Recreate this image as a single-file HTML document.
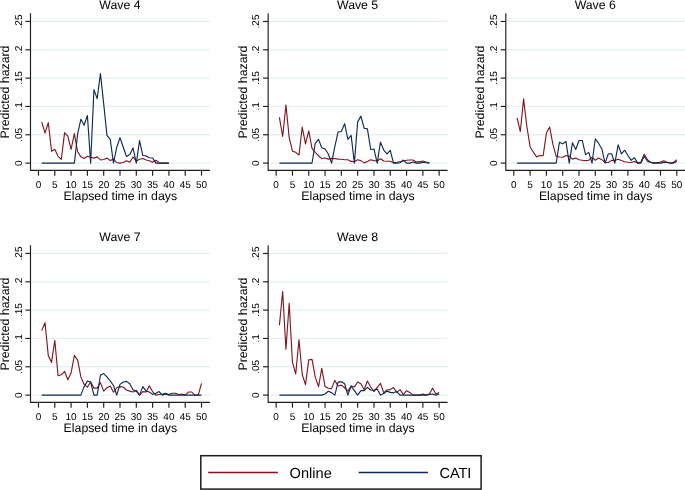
<!DOCTYPE html>
<html><head><meta charset="utf-8"><title>Predicted hazard by wave</title>
<style>
html,body{margin:0;padding:0;background:#fff;}
body{width:685px;height:490px;overflow:hidden;}
svg{display:block;}
text{font-family:"Liberation Sans",Arial,sans-serif;fill:#000;text-rendering:geometricPrecision;}
.t{font-size:12.3px;}
.tk{font-size:10px;}
.ax{font-size:12.3px;}
.lg{font-size:14.6px;}
</style></head><body>
<svg width="685" height="490" viewBox="0 0 685 490">
<rect width="685" height="490" fill="#fff"/>

<g transform="translate(0,0)">
<line x1="31.7" y1="163.1" x2="209.9" y2="163.1" stroke="#e6eff2" stroke-width="1.3"/>
<line x1="31.7" y1="134.77" x2="209.9" y2="134.77" stroke="#e6eff2" stroke-width="1.3"/>
<line x1="31.7" y1="106.45" x2="209.9" y2="106.45" stroke="#e6eff2" stroke-width="1.3"/>
<line x1="31.7" y1="78.12" x2="209.9" y2="78.12" stroke="#e6eff2" stroke-width="1.3"/>
<line x1="31.7" y1="49.8" x2="209.9" y2="49.8" stroke="#e6eff2" stroke-width="1.3"/>
<line x1="31.7" y1="21.47" x2="209.9" y2="21.47" stroke="#e6eff2" stroke-width="1.3"/>
<polyline points="41.76,121.86 45.02,133.13 48.28,122.54 51.54,151.2 54.8,149.33 58.06,156.3 61.32,159.47 64.58,132.68 67.84,136.08 71.1,149.33 74.36,133.64 77.62,151.77 80.88,156.87 84.14,158.57 87.4,156.3 90.66,157.27 93.92,158.11 97.18,156.87 100.44,159.93 103.7,159.47 106.96,158 110.22,160.61 113.48,159.13 116.74,162.53 120,163.1 123.26,162.53 126.52,160.83 129.78,162.25 133.04,156.93 136.3,161.06 139.56,159.19 142.82,158.57 146.08,160.04 149.34,160.83 152.6,162.25 155.86,160.27 159.12,162.7 162.38,163.1 165.64,163.1 168.9,163.1" fill="none" stroke="#7e1520" stroke-width="1.12" stroke-linejoin="round" stroke-linecap="butt"/>
<polyline points="41.76,163.1 45.02,163.1 48.28,163.1 51.54,163.1 54.8,163.1 58.06,163.1 61.32,163.1 64.58,163.1 67.84,163.1 71.1,163.1 74.36,163.1 77.62,134.21 80.88,119.14 84.14,125.26 87.4,115.51 90.66,163.1 93.92,89.62 97.18,98.63 100.44,73.59 103.7,103.84 106.96,135.34 110.22,139.31 113.48,163.1 116.74,147.24 120,137.66 123.26,147.24 126.52,156.53 129.78,154.49 133.04,147.92 136.3,163.1 139.56,140.55 142.82,155.51 146.08,155.91 149.34,157.77 152.6,158 155.86,163.1 159.12,163.1 162.38,163.1 165.64,163.1 168.9,163.1" fill="none" stroke="#0c2853" stroke-width="1.12" stroke-linejoin="round" stroke-linecap="butt"/>
<line x1="30.5" y1="13.3" x2="30.5" y2="170.9" stroke="#1c1c1c" stroke-width="1.15"/>
<line x1="30.5" y1="170.3" x2="209.9" y2="170.3" stroke="#1c1c1c" stroke-width="1.15"/>
<line x1="25.4" y1="163.1" x2="30.5" y2="163.1" stroke="#1c1c1c" stroke-width="1.15"/>
<text class="tk" text-anchor="middle" transform="translate(21.7,163.1) rotate(-90)">0</text>
<line x1="25.4" y1="134.77" x2="30.5" y2="134.77" stroke="#1c1c1c" stroke-width="1.15"/>
<text class="tk" text-anchor="middle" transform="translate(21.7,134.77) rotate(-90)">.05</text>
<line x1="25.4" y1="106.45" x2="30.5" y2="106.45" stroke="#1c1c1c" stroke-width="1.15"/>
<text class="tk" text-anchor="middle" transform="translate(21.7,106.45) rotate(-90)">.1</text>
<line x1="25.4" y1="78.12" x2="30.5" y2="78.12" stroke="#1c1c1c" stroke-width="1.15"/>
<text class="tk" text-anchor="middle" transform="translate(21.7,78.12) rotate(-90)">.15</text>
<line x1="25.4" y1="49.8" x2="30.5" y2="49.8" stroke="#1c1c1c" stroke-width="1.15"/>
<text class="tk" text-anchor="middle" transform="translate(21.7,49.8) rotate(-90)">.2</text>
<line x1="25.4" y1="21.47" x2="30.5" y2="21.47" stroke="#1c1c1c" stroke-width="1.15"/>
<text class="tk" text-anchor="middle" transform="translate(21.7,21.47) rotate(-90)">.25</text>
<line x1="38.5" y1="170.3" x2="38.5" y2="175.7" stroke="#1c1c1c" stroke-width="1.15"/>
<text class="tk" text-anchor="middle" x="38.5" y="188.1">0</text>
<line x1="54.8" y1="170.3" x2="54.8" y2="175.7" stroke="#1c1c1c" stroke-width="1.15"/>
<text class="tk" text-anchor="middle" x="54.8" y="188.1">5</text>
<line x1="71.1" y1="170.3" x2="71.1" y2="175.7" stroke="#1c1c1c" stroke-width="1.15"/>
<text class="tk" text-anchor="middle" x="71.1" y="188.1">10</text>
<line x1="87.4" y1="170.3" x2="87.4" y2="175.7" stroke="#1c1c1c" stroke-width="1.15"/>
<text class="tk" text-anchor="middle" x="87.4" y="188.1">15</text>
<line x1="103.7" y1="170.3" x2="103.7" y2="175.7" stroke="#1c1c1c" stroke-width="1.15"/>
<text class="tk" text-anchor="middle" x="103.7" y="188.1">20</text>
<line x1="120" y1="170.3" x2="120" y2="175.7" stroke="#1c1c1c" stroke-width="1.15"/>
<text class="tk" text-anchor="middle" x="120" y="188.1">25</text>
<line x1="136.3" y1="170.3" x2="136.3" y2="175.7" stroke="#1c1c1c" stroke-width="1.15"/>
<text class="tk" text-anchor="middle" x="136.3" y="188.1">30</text>
<line x1="152.6" y1="170.3" x2="152.6" y2="175.7" stroke="#1c1c1c" stroke-width="1.15"/>
<text class="tk" text-anchor="middle" x="152.6" y="188.1">35</text>
<line x1="168.9" y1="170.3" x2="168.9" y2="175.7" stroke="#1c1c1c" stroke-width="1.15"/>
<text class="tk" text-anchor="middle" x="168.9" y="188.1">40</text>
<line x1="185.2" y1="170.3" x2="185.2" y2="175.7" stroke="#1c1c1c" stroke-width="1.15"/>
<text class="tk" text-anchor="middle" x="185.2" y="188.1">45</text>
<line x1="201.5" y1="170.3" x2="201.5" y2="175.7" stroke="#1c1c1c" stroke-width="1.15"/>
<text class="tk" text-anchor="middle" x="201.5" y="188.1">50</text>
<text class="ax" text-anchor="middle" x="120.35" y="199.85">Elapsed time in days</text>
<text class="ax" text-anchor="middle" transform="translate(9.0,92.05) rotate(-90)">Predicted hazard</text>
<text class="t" text-anchor="middle" x="119.95" y="9.3">Wave 4</text>
</g>
<g transform="translate(237.65,0)">
<line x1="31.7" y1="163.1" x2="209.9" y2="163.1" stroke="#e6eff2" stroke-width="1.3"/>
<line x1="31.7" y1="134.77" x2="209.9" y2="134.77" stroke="#e6eff2" stroke-width="1.3"/>
<line x1="31.7" y1="106.45" x2="209.9" y2="106.45" stroke="#e6eff2" stroke-width="1.3"/>
<line x1="31.7" y1="78.12" x2="209.9" y2="78.12" stroke="#e6eff2" stroke-width="1.3"/>
<line x1="31.7" y1="49.8" x2="209.9" y2="49.8" stroke="#e6eff2" stroke-width="1.3"/>
<line x1="31.7" y1="21.47" x2="209.9" y2="21.47" stroke="#e6eff2" stroke-width="1.3"/>
<polyline points="41.76,117.38 45.02,136.47 48.28,104.98 51.54,137.61 54.8,151.2 58.06,152.34 61.32,155 64.58,127.07 67.84,143.84 71.1,130.81 74.36,148.37 77.62,152.34 80.88,155.74 84.14,158.57 87.4,158 90.66,159.13 93.92,158.34 97.18,158.57 100.44,159.13 103.7,159.25 106.96,159.7 110.22,159.7 113.48,161.4 116.74,161.74 120,159.81 123.26,160.66 126.52,162.87 129.78,161.4 133.04,159.81 136.3,160.66 139.56,161.06 142.82,158.79 146.08,161.06 149.34,161.23 152.6,161.23 155.86,162.7 159.12,162.31 162.38,161.68 165.64,161.06 168.9,160.27 172.16,160.04 175.42,160.04 178.68,162.08 181.94,161.68 185.2,161.06 188.46,161.97 191.72,162.7" fill="none" stroke="#7e1520" stroke-width="1.12" stroke-linejoin="round" stroke-linecap="butt"/>
<polyline points="41.76,163.1 45.02,163.1 48.28,163.1 51.54,163.1 54.8,163.1 58.06,163.1 61.32,163.1 64.58,163.1 67.84,163.1 71.1,163.1 74.36,163.1 77.62,143.27 80.88,139.42 84.14,147.8 87.4,148.94 90.66,154.04 93.92,163.1 97.18,146.67 100.44,131.94 103.7,131.55 106.96,123.67 110.22,139.31 113.48,135.34 116.74,163.1 120,121.86 123.26,116.14 126.52,128.26 129.78,128.88 133.04,149.5 136.3,148.94 139.56,163.1 142.82,142.14 146.08,150.07 149.34,153.87 152.6,150.41 155.86,163.1 159.12,163.1 162.38,162.7 165.64,160.04 168.9,163.1 172.16,163.1 175.42,161.97 178.68,163.1 181.94,163.1 185.2,162.25 188.46,162.7 191.72,163.1" fill="none" stroke="#0c2853" stroke-width="1.12" stroke-linejoin="round" stroke-linecap="butt"/>
<line x1="30.5" y1="13.3" x2="30.5" y2="170.9" stroke="#1c1c1c" stroke-width="1.15"/>
<line x1="30.5" y1="170.3" x2="209.9" y2="170.3" stroke="#1c1c1c" stroke-width="1.15"/>
<line x1="25.4" y1="163.1" x2="30.5" y2="163.1" stroke="#1c1c1c" stroke-width="1.15"/>
<text class="tk" text-anchor="middle" transform="translate(21.7,163.1) rotate(-90)">0</text>
<line x1="25.4" y1="134.77" x2="30.5" y2="134.77" stroke="#1c1c1c" stroke-width="1.15"/>
<text class="tk" text-anchor="middle" transform="translate(21.7,134.77) rotate(-90)">.05</text>
<line x1="25.4" y1="106.45" x2="30.5" y2="106.45" stroke="#1c1c1c" stroke-width="1.15"/>
<text class="tk" text-anchor="middle" transform="translate(21.7,106.45) rotate(-90)">.1</text>
<line x1="25.4" y1="78.12" x2="30.5" y2="78.12" stroke="#1c1c1c" stroke-width="1.15"/>
<text class="tk" text-anchor="middle" transform="translate(21.7,78.12) rotate(-90)">.15</text>
<line x1="25.4" y1="49.8" x2="30.5" y2="49.8" stroke="#1c1c1c" stroke-width="1.15"/>
<text class="tk" text-anchor="middle" transform="translate(21.7,49.8) rotate(-90)">.2</text>
<line x1="25.4" y1="21.47" x2="30.5" y2="21.47" stroke="#1c1c1c" stroke-width="1.15"/>
<text class="tk" text-anchor="middle" transform="translate(21.7,21.47) rotate(-90)">.25</text>
<line x1="38.5" y1="170.3" x2="38.5" y2="175.7" stroke="#1c1c1c" stroke-width="1.15"/>
<text class="tk" text-anchor="middle" x="38.5" y="188.1">0</text>
<line x1="54.8" y1="170.3" x2="54.8" y2="175.7" stroke="#1c1c1c" stroke-width="1.15"/>
<text class="tk" text-anchor="middle" x="54.8" y="188.1">5</text>
<line x1="71.1" y1="170.3" x2="71.1" y2="175.7" stroke="#1c1c1c" stroke-width="1.15"/>
<text class="tk" text-anchor="middle" x="71.1" y="188.1">10</text>
<line x1="87.4" y1="170.3" x2="87.4" y2="175.7" stroke="#1c1c1c" stroke-width="1.15"/>
<text class="tk" text-anchor="middle" x="87.4" y="188.1">15</text>
<line x1="103.7" y1="170.3" x2="103.7" y2="175.7" stroke="#1c1c1c" stroke-width="1.15"/>
<text class="tk" text-anchor="middle" x="103.7" y="188.1">20</text>
<line x1="120" y1="170.3" x2="120" y2="175.7" stroke="#1c1c1c" stroke-width="1.15"/>
<text class="tk" text-anchor="middle" x="120" y="188.1">25</text>
<line x1="136.3" y1="170.3" x2="136.3" y2="175.7" stroke="#1c1c1c" stroke-width="1.15"/>
<text class="tk" text-anchor="middle" x="136.3" y="188.1">30</text>
<line x1="152.6" y1="170.3" x2="152.6" y2="175.7" stroke="#1c1c1c" stroke-width="1.15"/>
<text class="tk" text-anchor="middle" x="152.6" y="188.1">35</text>
<line x1="168.9" y1="170.3" x2="168.9" y2="175.7" stroke="#1c1c1c" stroke-width="1.15"/>
<text class="tk" text-anchor="middle" x="168.9" y="188.1">40</text>
<line x1="185.2" y1="170.3" x2="185.2" y2="175.7" stroke="#1c1c1c" stroke-width="1.15"/>
<text class="tk" text-anchor="middle" x="185.2" y="188.1">45</text>
<line x1="201.5" y1="170.3" x2="201.5" y2="175.7" stroke="#1c1c1c" stroke-width="1.15"/>
<text class="tk" text-anchor="middle" x="201.5" y="188.1">50</text>
<text class="ax" text-anchor="middle" x="120.35" y="199.85">Elapsed time in days</text>
<text class="ax" text-anchor="middle" transform="translate(9.0,92.05) rotate(-90)">Predicted hazard</text>
<text class="t" text-anchor="middle" x="119.95" y="9.3">Wave 5</text>
</g>
<g transform="translate(475.3,0)">
<line x1="31.7" y1="163.1" x2="209.9" y2="163.1" stroke="#e6eff2" stroke-width="1.3"/>
<line x1="31.7" y1="134.77" x2="209.9" y2="134.77" stroke="#e6eff2" stroke-width="1.3"/>
<line x1="31.7" y1="106.45" x2="209.9" y2="106.45" stroke="#e6eff2" stroke-width="1.3"/>
<line x1="31.7" y1="78.12" x2="209.9" y2="78.12" stroke="#e6eff2" stroke-width="1.3"/>
<line x1="31.7" y1="49.8" x2="209.9" y2="49.8" stroke="#e6eff2" stroke-width="1.3"/>
<line x1="31.7" y1="21.47" x2="209.9" y2="21.47" stroke="#e6eff2" stroke-width="1.3"/>
<polyline points="41.76,117.78 45.02,131.55 48.28,98.86 51.54,126.39 54.8,146.67 58.06,152.34 61.32,156.87 64.58,155.45 67.84,155.74 71.1,133.08 74.36,127.07 77.62,144.41 80.88,156.3 84.14,157.04 87.4,157.27 90.66,155.45 93.92,156.13 97.18,159.13 100.44,158 103.7,159.7 106.96,160.27 110.22,160.61 113.48,160.27 116.74,157.44 120,160.27 123.26,158 126.52,159.7 129.78,162.53 133.04,162.53 136.3,160.38 139.56,160.38 142.82,159.25 146.08,160.55 149.34,161.68 152.6,162.19 155.86,162.53 159.12,161.57 162.38,162.87 165.64,161.97 168.9,154.15 172.16,159.7 175.42,162.36 178.68,162.87 181.94,162.87 185.2,161.97 188.46,160.83 191.72,162.19 194.98,162.99 198.24,162.36 201.5,159.7" fill="none" stroke="#7e1520" stroke-width="1.12" stroke-linejoin="round" stroke-linecap="butt"/>
<polyline points="41.76,163.1 45.02,163.1 48.28,163.1 51.54,163.1 54.8,163.1 58.06,163.1 61.32,163.1 64.58,163.1 67.84,163.1 71.1,163.1 74.36,163.1 77.62,163.1 80.88,163.1 84.14,142.14 87.4,143.84 90.66,141.57 93.92,163.1 97.18,142.71 100.44,149.5 103.7,140.44 106.96,140.44 110.22,154.6 113.48,152.34 116.74,163.1 120,138.74 123.26,143.27 126.52,148.94 129.78,163.1 133.04,153.81 136.3,153.81 139.56,163.1 142.82,144.8 146.08,153.81 149.34,150.24 152.6,155.45 155.86,160.38 159.12,157.6 162.38,163.1 165.64,163.1 168.9,156.3 172.16,161.23 175.42,162.53 178.68,163.1 181.94,163.1 185.2,163.1 188.46,162.36 191.72,162.53 194.98,163.1 198.24,163.1 201.5,161.23" fill="none" stroke="#0c2853" stroke-width="1.12" stroke-linejoin="round" stroke-linecap="butt"/>
<line x1="30.5" y1="13.3" x2="30.5" y2="170.9" stroke="#1c1c1c" stroke-width="1.15"/>
<line x1="30.5" y1="170.3" x2="209.9" y2="170.3" stroke="#1c1c1c" stroke-width="1.15"/>
<line x1="25.4" y1="163.1" x2="30.5" y2="163.1" stroke="#1c1c1c" stroke-width="1.15"/>
<text class="tk" text-anchor="middle" transform="translate(21.7,163.1) rotate(-90)">0</text>
<line x1="25.4" y1="134.77" x2="30.5" y2="134.77" stroke="#1c1c1c" stroke-width="1.15"/>
<text class="tk" text-anchor="middle" transform="translate(21.7,134.77) rotate(-90)">.05</text>
<line x1="25.4" y1="106.45" x2="30.5" y2="106.45" stroke="#1c1c1c" stroke-width="1.15"/>
<text class="tk" text-anchor="middle" transform="translate(21.7,106.45) rotate(-90)">.1</text>
<line x1="25.4" y1="78.12" x2="30.5" y2="78.12" stroke="#1c1c1c" stroke-width="1.15"/>
<text class="tk" text-anchor="middle" transform="translate(21.7,78.12) rotate(-90)">.15</text>
<line x1="25.4" y1="49.8" x2="30.5" y2="49.8" stroke="#1c1c1c" stroke-width="1.15"/>
<text class="tk" text-anchor="middle" transform="translate(21.7,49.8) rotate(-90)">.2</text>
<line x1="25.4" y1="21.47" x2="30.5" y2="21.47" stroke="#1c1c1c" stroke-width="1.15"/>
<text class="tk" text-anchor="middle" transform="translate(21.7,21.47) rotate(-90)">.25</text>
<line x1="38.5" y1="170.3" x2="38.5" y2="175.7" stroke="#1c1c1c" stroke-width="1.15"/>
<text class="tk" text-anchor="middle" x="38.5" y="188.1">0</text>
<line x1="54.8" y1="170.3" x2="54.8" y2="175.7" stroke="#1c1c1c" stroke-width="1.15"/>
<text class="tk" text-anchor="middle" x="54.8" y="188.1">5</text>
<line x1="71.1" y1="170.3" x2="71.1" y2="175.7" stroke="#1c1c1c" stroke-width="1.15"/>
<text class="tk" text-anchor="middle" x="71.1" y="188.1">10</text>
<line x1="87.4" y1="170.3" x2="87.4" y2="175.7" stroke="#1c1c1c" stroke-width="1.15"/>
<text class="tk" text-anchor="middle" x="87.4" y="188.1">15</text>
<line x1="103.7" y1="170.3" x2="103.7" y2="175.7" stroke="#1c1c1c" stroke-width="1.15"/>
<text class="tk" text-anchor="middle" x="103.7" y="188.1">20</text>
<line x1="120" y1="170.3" x2="120" y2="175.7" stroke="#1c1c1c" stroke-width="1.15"/>
<text class="tk" text-anchor="middle" x="120" y="188.1">25</text>
<line x1="136.3" y1="170.3" x2="136.3" y2="175.7" stroke="#1c1c1c" stroke-width="1.15"/>
<text class="tk" text-anchor="middle" x="136.3" y="188.1">30</text>
<line x1="152.6" y1="170.3" x2="152.6" y2="175.7" stroke="#1c1c1c" stroke-width="1.15"/>
<text class="tk" text-anchor="middle" x="152.6" y="188.1">35</text>
<line x1="168.9" y1="170.3" x2="168.9" y2="175.7" stroke="#1c1c1c" stroke-width="1.15"/>
<text class="tk" text-anchor="middle" x="168.9" y="188.1">40</text>
<line x1="185.2" y1="170.3" x2="185.2" y2="175.7" stroke="#1c1c1c" stroke-width="1.15"/>
<text class="tk" text-anchor="middle" x="185.2" y="188.1">45</text>
<line x1="201.5" y1="170.3" x2="201.5" y2="175.7" stroke="#1c1c1c" stroke-width="1.15"/>
<text class="tk" text-anchor="middle" x="201.5" y="188.1">50</text>
<text class="ax" text-anchor="middle" x="120.35" y="199.85">Elapsed time in days</text>
<text class="ax" text-anchor="middle" transform="translate(9.0,92.05) rotate(-90)">Predicted hazard</text>
<text class="t" text-anchor="middle" x="119.95" y="9.3">Wave 6</text>
</g>
<g transform="translate(0,232)">
<line x1="31.7" y1="163.1" x2="209.9" y2="163.1" stroke="#e6eff2" stroke-width="1.3"/>
<line x1="31.7" y1="134.77" x2="209.9" y2="134.77" stroke="#e6eff2" stroke-width="1.3"/>
<line x1="31.7" y1="106.45" x2="209.9" y2="106.45" stroke="#e6eff2" stroke-width="1.3"/>
<line x1="31.7" y1="78.12" x2="209.9" y2="78.12" stroke="#e6eff2" stroke-width="1.3"/>
<line x1="31.7" y1="49.8" x2="209.9" y2="49.8" stroke="#e6eff2" stroke-width="1.3"/>
<line x1="31.7" y1="21.47" x2="209.9" y2="21.47" stroke="#e6eff2" stroke-width="1.3"/>
<polyline points="41.76,98.63 45.02,90.76 48.28,123.44 51.54,130.41 54.8,108.32 58.06,143.73 61.32,142.82 64.58,139.31 67.84,147.8 71.1,141.01 74.36,123.44 77.62,128.15 80.88,144.97 84.14,152.34 87.4,155.17 90.66,150.07 93.92,156.13 97.18,156.13 100.44,150.64 103.7,159.13 106.96,155.74 110.22,154.04 113.48,160.27 116.74,155.74 120,154.6 123.26,155 126.52,158 129.78,159.13 133.04,160.04 136.3,158.4 139.56,163.1 142.82,159.59 146.08,160.04 149.34,153.81 152.6,159.59 155.86,163.1 159.12,162.53 162.38,161.97 165.64,161.23 168.9,162.53 172.16,161.23 175.42,161.23 178.68,162.53 181.94,161.97 185.2,163.1 188.46,160.04 191.72,160.04 194.98,163.1 198.24,163.1 201.5,151.37" fill="none" stroke="#7e1520" stroke-width="1.12" stroke-linejoin="round" stroke-linecap="butt"/>
<polyline points="41.76,163.1 45.02,163.1 48.28,163.1 51.54,163.1 54.8,163.1 58.06,163.1 61.32,163.1 64.58,163.1 67.84,163.1 71.1,163.1 74.36,163.1 77.62,163.1 80.88,163.1 84.14,154.6 87.4,148.94 90.66,150.07 93.92,163.1 97.18,163.1 100.44,143.27 103.7,141.57 106.96,144.97 110.22,148.94 113.48,153.47 116.74,163.1 120,152.34 123.26,150.07 126.52,149.33 129.78,151.77 133.04,157.72 136.3,159.13 139.56,163.1 142.82,154.6 146.08,159.13 149.34,160.04 152.6,162.36 155.86,161.23 159.12,159.59 162.38,163.1 165.64,161.97 168.9,163.1 172.16,163.1 175.42,163.1 178.68,163.1 181.94,163.1 185.2,163.1 188.46,163.1 191.72,163.1 194.98,163.1 198.24,163.1 201.5,163.1" fill="none" stroke="#0c2853" stroke-width="1.12" stroke-linejoin="round" stroke-linecap="butt"/>
<line x1="30.5" y1="13.3" x2="30.5" y2="170.9" stroke="#1c1c1c" stroke-width="1.15"/>
<line x1="30.5" y1="170.3" x2="209.9" y2="170.3" stroke="#1c1c1c" stroke-width="1.15"/>
<line x1="25.4" y1="163.1" x2="30.5" y2="163.1" stroke="#1c1c1c" stroke-width="1.15"/>
<text class="tk" text-anchor="middle" transform="translate(21.7,163.1) rotate(-90)">0</text>
<line x1="25.4" y1="134.77" x2="30.5" y2="134.77" stroke="#1c1c1c" stroke-width="1.15"/>
<text class="tk" text-anchor="middle" transform="translate(21.7,134.77) rotate(-90)">.05</text>
<line x1="25.4" y1="106.45" x2="30.5" y2="106.45" stroke="#1c1c1c" stroke-width="1.15"/>
<text class="tk" text-anchor="middle" transform="translate(21.7,106.45) rotate(-90)">.1</text>
<line x1="25.4" y1="78.12" x2="30.5" y2="78.12" stroke="#1c1c1c" stroke-width="1.15"/>
<text class="tk" text-anchor="middle" transform="translate(21.7,78.12) rotate(-90)">.15</text>
<line x1="25.4" y1="49.8" x2="30.5" y2="49.8" stroke="#1c1c1c" stroke-width="1.15"/>
<text class="tk" text-anchor="middle" transform="translate(21.7,49.8) rotate(-90)">.2</text>
<line x1="25.4" y1="21.47" x2="30.5" y2="21.47" stroke="#1c1c1c" stroke-width="1.15"/>
<text class="tk" text-anchor="middle" transform="translate(21.7,21.47) rotate(-90)">.25</text>
<line x1="38.5" y1="170.3" x2="38.5" y2="175.7" stroke="#1c1c1c" stroke-width="1.15"/>
<text class="tk" text-anchor="middle" x="38.5" y="188.1">0</text>
<line x1="54.8" y1="170.3" x2="54.8" y2="175.7" stroke="#1c1c1c" stroke-width="1.15"/>
<text class="tk" text-anchor="middle" x="54.8" y="188.1">5</text>
<line x1="71.1" y1="170.3" x2="71.1" y2="175.7" stroke="#1c1c1c" stroke-width="1.15"/>
<text class="tk" text-anchor="middle" x="71.1" y="188.1">10</text>
<line x1="87.4" y1="170.3" x2="87.4" y2="175.7" stroke="#1c1c1c" stroke-width="1.15"/>
<text class="tk" text-anchor="middle" x="87.4" y="188.1">15</text>
<line x1="103.7" y1="170.3" x2="103.7" y2="175.7" stroke="#1c1c1c" stroke-width="1.15"/>
<text class="tk" text-anchor="middle" x="103.7" y="188.1">20</text>
<line x1="120" y1="170.3" x2="120" y2="175.7" stroke="#1c1c1c" stroke-width="1.15"/>
<text class="tk" text-anchor="middle" x="120" y="188.1">25</text>
<line x1="136.3" y1="170.3" x2="136.3" y2="175.7" stroke="#1c1c1c" stroke-width="1.15"/>
<text class="tk" text-anchor="middle" x="136.3" y="188.1">30</text>
<line x1="152.6" y1="170.3" x2="152.6" y2="175.7" stroke="#1c1c1c" stroke-width="1.15"/>
<text class="tk" text-anchor="middle" x="152.6" y="188.1">35</text>
<line x1="168.9" y1="170.3" x2="168.9" y2="175.7" stroke="#1c1c1c" stroke-width="1.15"/>
<text class="tk" text-anchor="middle" x="168.9" y="188.1">40</text>
<line x1="185.2" y1="170.3" x2="185.2" y2="175.7" stroke="#1c1c1c" stroke-width="1.15"/>
<text class="tk" text-anchor="middle" x="185.2" y="188.1">45</text>
<line x1="201.5" y1="170.3" x2="201.5" y2="175.7" stroke="#1c1c1c" stroke-width="1.15"/>
<text class="tk" text-anchor="middle" x="201.5" y="188.1">50</text>
<text class="ax" text-anchor="middle" x="120.35" y="199.85">Elapsed time in days</text>
<text class="ax" text-anchor="middle" transform="translate(9.0,92.05) rotate(-90)">Predicted hazard</text>
<text class="t" text-anchor="middle" x="119.95" y="9.3">Wave 7</text>
</g>
<g transform="translate(237.65,232)">
<line x1="31.7" y1="163.1" x2="209.9" y2="163.1" stroke="#e6eff2" stroke-width="1.3"/>
<line x1="31.7" y1="134.77" x2="209.9" y2="134.77" stroke="#e6eff2" stroke-width="1.3"/>
<line x1="31.7" y1="106.45" x2="209.9" y2="106.45" stroke="#e6eff2" stroke-width="1.3"/>
<line x1="31.7" y1="78.12" x2="209.9" y2="78.12" stroke="#e6eff2" stroke-width="1.3"/>
<line x1="31.7" y1="49.8" x2="209.9" y2="49.8" stroke="#e6eff2" stroke-width="1.3"/>
<line x1="31.7" y1="21.47" x2="209.9" y2="21.47" stroke="#e6eff2" stroke-width="1.3"/>
<polyline points="41.76,93.19 45.02,59.54 48.28,117.21 51.54,71.33 54.8,130.47 58.06,141.97 61.32,107.81 64.58,142.48 67.84,152.62 71.1,127.81 74.36,127.41 77.62,145.14 80.88,154.6 84.14,136.47 87.4,154.6 90.66,156.3 93.92,156.59 97.18,148.37 100.44,154.04 103.7,153.13 106.96,155.74 110.22,159.13 113.48,154.04 116.74,155 120,150.07 123.26,151.77 126.52,157.66 129.78,148.94 133.04,155 136.3,159.59 139.56,155.45 142.82,151.37 146.08,160.72 149.34,157.94 152.6,157.6 155.86,155.45 159.12,160.38 162.38,157.6 165.64,162.53 168.9,158.74 172.16,160.38 175.42,163.1 178.68,163.1 181.94,163.1 185.2,161.97 188.46,163.1 191.72,161.97 194.98,156.3 198.24,161.97 201.5,160.38" fill="none" stroke="#7e1520" stroke-width="1.12" stroke-linejoin="round" stroke-linecap="butt"/>
<polyline points="41.76,163.1 45.02,163.1 48.28,163.1 51.54,163.1 54.8,163.1 58.06,163.1 61.32,163.1 64.58,163.1 67.84,163.1 71.1,163.1 74.36,163.1 77.62,163.1 80.88,163.1 84.14,163.1 87.4,161.97 90.66,159.25 93.92,160.61 97.18,163.1 100.44,150.07 103.7,149.67 106.96,151.77 110.22,163.1 113.48,154.04 116.74,158.57 120,163.1 123.26,158.57 126.52,158.57 129.78,155.45 133.04,157.94 136.3,158.28 139.56,157.1 142.82,163.1 146.08,161.57 149.34,159.13 152.6,160.38 155.86,160.83 159.12,159.59 162.38,163.1 165.64,163.1 168.9,163.1 172.16,163.1 175.42,163.1 178.68,163.1 181.94,163.1 185.2,162.87 188.46,163.1 191.72,162.36 194.98,161.97 198.24,163.1 201.5,161.97" fill="none" stroke="#0c2853" stroke-width="1.12" stroke-linejoin="round" stroke-linecap="butt"/>
<line x1="30.5" y1="13.3" x2="30.5" y2="170.9" stroke="#1c1c1c" stroke-width="1.15"/>
<line x1="30.5" y1="170.3" x2="209.9" y2="170.3" stroke="#1c1c1c" stroke-width="1.15"/>
<line x1="25.4" y1="163.1" x2="30.5" y2="163.1" stroke="#1c1c1c" stroke-width="1.15"/>
<text class="tk" text-anchor="middle" transform="translate(21.7,163.1) rotate(-90)">0</text>
<line x1="25.4" y1="134.77" x2="30.5" y2="134.77" stroke="#1c1c1c" stroke-width="1.15"/>
<text class="tk" text-anchor="middle" transform="translate(21.7,134.77) rotate(-90)">.05</text>
<line x1="25.4" y1="106.45" x2="30.5" y2="106.45" stroke="#1c1c1c" stroke-width="1.15"/>
<text class="tk" text-anchor="middle" transform="translate(21.7,106.45) rotate(-90)">.1</text>
<line x1="25.4" y1="78.12" x2="30.5" y2="78.12" stroke="#1c1c1c" stroke-width="1.15"/>
<text class="tk" text-anchor="middle" transform="translate(21.7,78.12) rotate(-90)">.15</text>
<line x1="25.4" y1="49.8" x2="30.5" y2="49.8" stroke="#1c1c1c" stroke-width="1.15"/>
<text class="tk" text-anchor="middle" transform="translate(21.7,49.8) rotate(-90)">.2</text>
<line x1="25.4" y1="21.47" x2="30.5" y2="21.47" stroke="#1c1c1c" stroke-width="1.15"/>
<text class="tk" text-anchor="middle" transform="translate(21.7,21.47) rotate(-90)">.25</text>
<line x1="38.5" y1="170.3" x2="38.5" y2="175.7" stroke="#1c1c1c" stroke-width="1.15"/>
<text class="tk" text-anchor="middle" x="38.5" y="188.1">0</text>
<line x1="54.8" y1="170.3" x2="54.8" y2="175.7" stroke="#1c1c1c" stroke-width="1.15"/>
<text class="tk" text-anchor="middle" x="54.8" y="188.1">5</text>
<line x1="71.1" y1="170.3" x2="71.1" y2="175.7" stroke="#1c1c1c" stroke-width="1.15"/>
<text class="tk" text-anchor="middle" x="71.1" y="188.1">10</text>
<line x1="87.4" y1="170.3" x2="87.4" y2="175.7" stroke="#1c1c1c" stroke-width="1.15"/>
<text class="tk" text-anchor="middle" x="87.4" y="188.1">15</text>
<line x1="103.7" y1="170.3" x2="103.7" y2="175.7" stroke="#1c1c1c" stroke-width="1.15"/>
<text class="tk" text-anchor="middle" x="103.7" y="188.1">20</text>
<line x1="120" y1="170.3" x2="120" y2="175.7" stroke="#1c1c1c" stroke-width="1.15"/>
<text class="tk" text-anchor="middle" x="120" y="188.1">25</text>
<line x1="136.3" y1="170.3" x2="136.3" y2="175.7" stroke="#1c1c1c" stroke-width="1.15"/>
<text class="tk" text-anchor="middle" x="136.3" y="188.1">30</text>
<line x1="152.6" y1="170.3" x2="152.6" y2="175.7" stroke="#1c1c1c" stroke-width="1.15"/>
<text class="tk" text-anchor="middle" x="152.6" y="188.1">35</text>
<line x1="168.9" y1="170.3" x2="168.9" y2="175.7" stroke="#1c1c1c" stroke-width="1.15"/>
<text class="tk" text-anchor="middle" x="168.9" y="188.1">40</text>
<line x1="185.2" y1="170.3" x2="185.2" y2="175.7" stroke="#1c1c1c" stroke-width="1.15"/>
<text class="tk" text-anchor="middle" x="185.2" y="188.1">45</text>
<line x1="201.5" y1="170.3" x2="201.5" y2="175.7" stroke="#1c1c1c" stroke-width="1.15"/>
<text class="tk" text-anchor="middle" x="201.5" y="188.1">50</text>
<text class="ax" text-anchor="middle" x="120.35" y="199.85">Elapsed time in days</text>
<text class="ax" text-anchor="middle" transform="translate(9.0,92.05) rotate(-90)">Predicted hazard</text>
<text class="t" text-anchor="middle" x="119.95" y="9.3">Wave 8</text>
</g>
<rect x="200.8" y="455.7" width="280.3" height="33.4" fill="#fff" stroke="#1c1c1c" stroke-width="1.5"/>
<line x1="208.2" y1="472.5" x2="277.9" y2="472.5" stroke="#7e1520" stroke-width="1.35"/>
<text class="lg" x="289.6" y="478.4">Online</text>
<line x1="358.7" y1="472.5" x2="427.9" y2="472.5" stroke="#0c2853" stroke-width="1.35"/>
<text class="lg" x="439.6" y="478.4" letter-spacing="-0.15">CATI</text>
</svg>
</body></html>
